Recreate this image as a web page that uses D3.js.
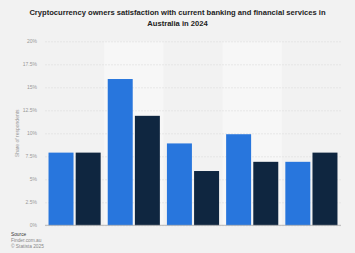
<!DOCTYPE html>
<html>
<head>
<meta charset="utf-8">
<script src="https://cdn.jsdelivr.net/npm/d3@7"></script>
<style>
  body { margin: 0; background: #f2f2f2; }
  svg { display: block; font-family: "Liberation Sans", Arial, sans-serif; }
</style>
</head>
<body>
<div id="graph"></div>
<script>
const categories = ["A", "B", "C", "D", "E"];
const seriesNames = ["2023", "2024"];
const valuesBlue = [7.9, 15.9, 8.9, 9.9, 6.9];
const valuesDark = [7.9, 11.9, 5.9, 6.9, 7.9];
const yTicks = [0, 2.5, 5, 7.5, 10, 12.5, 15, 17.5, 20];

const width = 355, height = 253;
const margin = { left: 45, right: 14, top: 41.3, bottom: 27.7 };

const svg = d3.select("#graph").append("svg")
  .attr("width", width).attr("height", height);

svg.append("rect").attr("width", width).attr("height", height).attr("fill", "#f2f2f2");

svg.append("text")
  .attr("x", width / 2).attr("y", 15)
  .attr("text-anchor", "middle")
  .style("font-size", "7.6px").style("font-weight", "bold").attr("fill", "#222")
  .text("Cryptocurrency owners satisfaction with current banking and financial services in");
svg.append("text")
  .attr("x", width / 2).attr("y", 26)
  .attr("text-anchor", "middle")
  .style("font-size", "7.6px").style("font-weight", "bold").attr("fill", "#222")
  .text("Australia in 2024");

const x = d3.scaleBand().domain(categories)
  .range([margin.left, width - margin.right]).padding(0);
const x1 = d3.scaleBand().domain(seriesNames)
  .range([0, x.bandwidth()]).paddingInner(0.08).paddingOuter(0.13);
const y = d3.scaleLinear().domain([0, 20])
  .range([height - margin.bottom, margin.top]);

// alternating bands
svg.append("g").selectAll("rect")
  .data(categories.filter((d, i) => i % 2 === 1))
  .enter().append("rect")
  .attr("x", d => x(d)).attr("width", x.bandwidth())
  .attr("y", margin.top).attr("height", y(0) - margin.top)
  .attr("fill", "#f7f7f7");

// gridlines
const yAxis = d3.axisLeft(y).tickValues(yTicks)
  .tickSize(-(width - margin.left - margin.right))
  .tickFormat(d => d + "%");
const gy = svg.append("g")
  .attr("transform", `translate(${margin.left},0)`)
  .call(yAxis);
gy.select(".domain").remove();
gy.selectAll(".tick line").attr("stroke", "#dcdcdc").attr("stroke-dasharray", "2,1").attr("stroke-width", 0.6);
gy.selectAll(".tick text").attr("fill", "#999").style("font-size", "5px").attr("x", -8);

svg.append("text")
  .attr("transform", `translate(19,${(y(0) + y(20)) / 2}) rotate(-90)`)
  .attr("text-anchor", "middle")
  .style("font-size", "5px").attr("fill", "#999")
  .text("Share of respondents");

const rows = categories.map((c, i) => ({ cat: c, vals: [valuesBlue[i], valuesDark[i]] }));
const colors = d3.scaleOrdinal().domain(seriesNames).range(["#2876dd", "#0f2640"]);

svg.append("g").selectAll("g")
  .data(rows).enter().append("g")
  .attr("transform", d => `translate(${x(d.cat)},0)`)
  .selectAll("rect")
  .data(d => d.vals.map((v, j) => ({ key: seriesNames[j], v })))
  .enter().append("rect")
  .attr("x", d => x1(d.key))
  .attr("width", x1.bandwidth())
  .attr("y", d => y(d.v))
  .attr("height", d => y(0) - y(d.v))
  .attr("fill", d => colors(d.key));

svg.append("line")
  .attr("x1", margin.left).attr("x2", width - margin.right)
  .attr("y1", y(0)).attr("y2", y(0))
  .attr("stroke", "#aaa").attr("stroke-width", 0.8);

const src = svg.append("g").style("font-size", "4.8px");
src.append("text").attr("x", 11).attr("y", 236).attr("fill", "#333").text("Source");
src.append("text").attr("x", 11).attr("y", 242).attr("fill", "#888").text("Finder.com.au");
src.append("text").attr("x", 11).attr("y", 248).attr("fill", "#888").text("© Statista 2025");
</script>
</body>
</html>
